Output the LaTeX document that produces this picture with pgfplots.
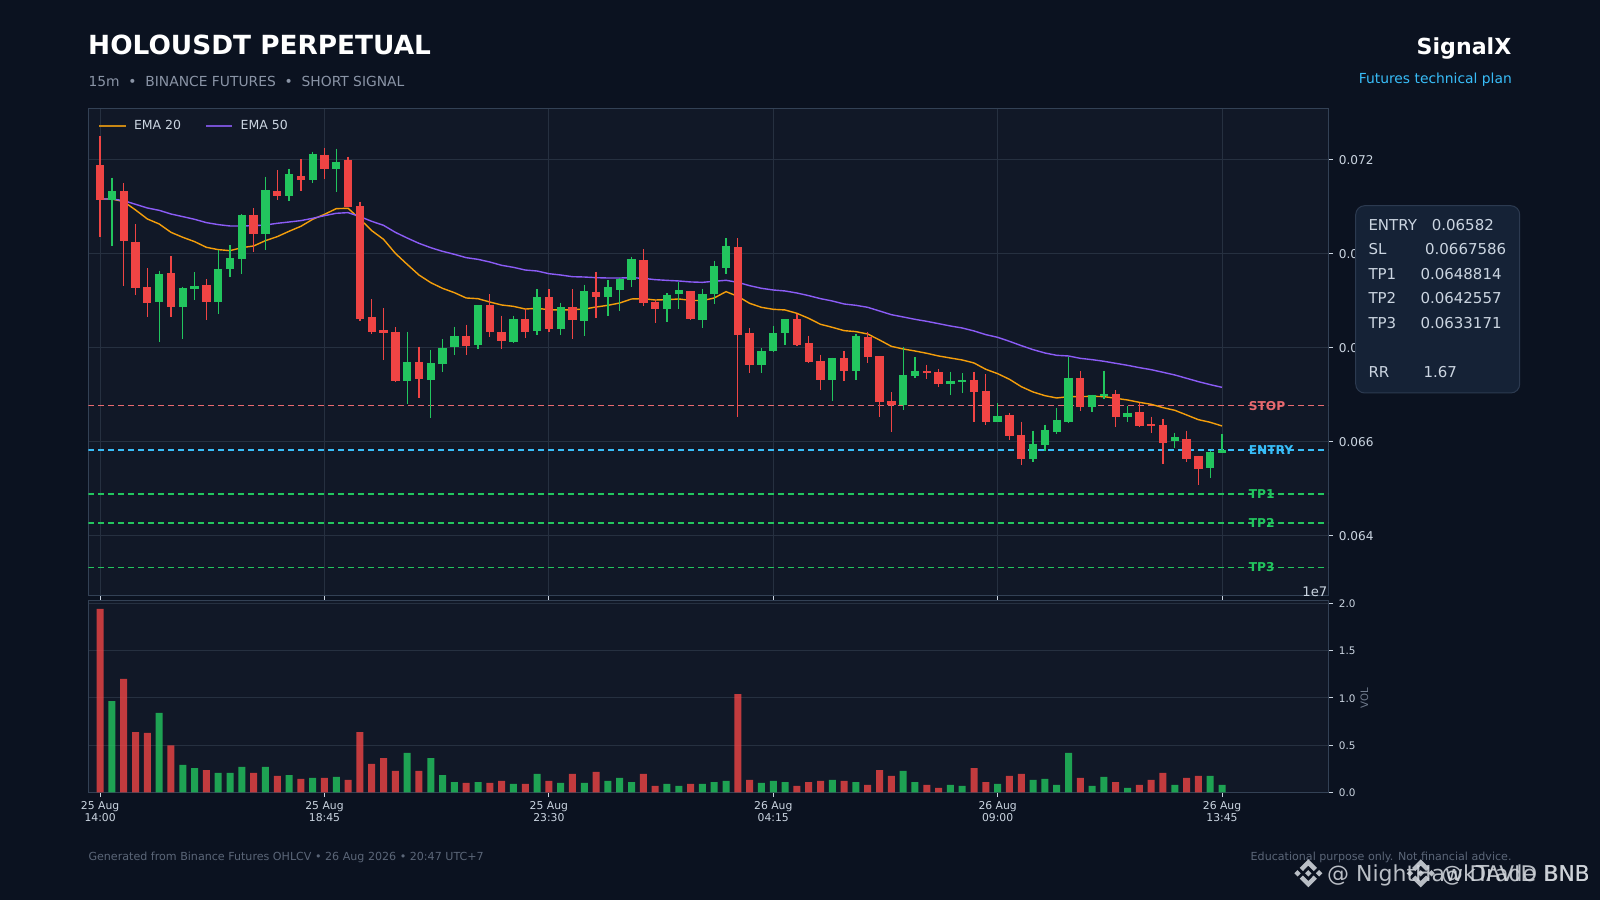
\documentclass[border=0pt]{standalone}
\usepackage{fontspec}
\setmainfont{DejaVu Sans}
\usepackage{pgfplots}
\usepackage{pgfplotstable}
\pgfplotsset{compat=1.18}
\definecolor{bgc}{HTML}{0B1220}
\definecolor{panel}{HTML}{111827}
\definecolor{gridc}{HTML}{263040}
\definecolor{spine}{HTML}{334155}
\definecolor{tickc}{HTML}{CBD5E1}
\definecolor{upc}{HTML}{22C55E}
\definecolor{dnc}{HTML}{EF4444}
\definecolor{ema1}{HTML}{F59E0B}
\definecolor{ema2}{HTML}{8B5CF6}
\definecolor{leg1}{HTML}{C98714}
\definecolor{leg2}{HTML}{7550D0}
\definecolor{stopc}{HTML}{E8696F}
\definecolor{entryc}{HTML}{38BDF8}
\definecolor{subc}{HTML}{8A94A6}
\definecolor{footc}{HTML}{5B6678}
\definecolor{volc}{HTML}{6F7A8C}
\definecolor{boxf}{HTML}{152236}
\definecolor{boxe}{HTML}{2C3A50}
\definecolor{wmc}{HTML}{D2D6DC}

\pgfplotstableread{
x open high low close
1 0.071134 0.071610 0.070155 0.071326
5 0.068964 0.069631 0.068106 0.069560
7 0.068858 0.069290 0.068184 0.069262
8 0.069241 0.069595 0.069000 0.069304
10 0.068964 0.070070 0.068702 0.069666
11 0.069666 0.070170 0.069489 0.069900
12 0.069879 0.070829 0.069553 0.070815
14 0.070411 0.071631 0.070063 0.071347
16 0.071219 0.071801 0.071120 0.071687
18 0.071560 0.072163 0.071503 0.072113
20 0.071794 0.072227 0.071312 0.071943
26 0.067283 0.068332 0.066793 0.067687
28 0.067304 0.067950 0.066489 0.067666
29 0.067644 0.068170 0.067467 0.067985
30 0.068006 0.068439 0.067829 0.068240
32 0.068049 0.068900 0.067971 0.068900
35 0.068113 0.068673 0.068098 0.068602
37 0.068347 0.069233 0.068255 0.069070
39 0.068389 0.068949 0.068255 0.068857
41 0.068560 0.069333 0.068234 0.069198
43 0.069070 0.069432 0.068659 0.069283
44 0.069219 0.069470 0.068779 0.069450
45 0.069432 0.069928 0.069290 0.069879
48 0.068815 0.069148 0.068545 0.069113
49 0.069134 0.069396 0.068808 0.069219
51 0.068581 0.069248 0.068404 0.069134
52 0.069134 0.069843 0.068914 0.069730
53 0.069687 0.070318 0.069552 0.070155
56 0.067623 0.067978 0.067460 0.067921
57 0.067921 0.068460 0.067893 0.068304
58 0.068304 0.068602 0.068056 0.068602
62 0.067304 0.067780 0.066864 0.067772
64 0.067496 0.068283 0.067311 0.068240
68 0.066772 0.068013 0.066673 0.067411
69 0.067389 0.067786 0.067354 0.067496
72 0.067219 0.067482 0.066992 0.067283
73 0.067262 0.067446 0.067035 0.067304
76 0.066411 0.066815 0.066411 0.066538
79 0.065624 0.066226 0.065567 0.065943
80 0.065921 0.066354 0.065787 0.066241
81 0.066198 0.066716 0.066163 0.066453
82 0.066411 0.067801 0.066397 0.067347
84 0.066730 0.066992 0.066631 0.066985
85 0.066964 0.067503 0.066893 0.067007
87 0.066517 0.066751 0.066404 0.066602
91 0.066007 0.066184 0.065865 0.066092
94 0.065432 0.065794 0.065226 0.065772
95 0.065751 0.066163 0.065751 0.065815
}\upT

\pgfplotstableread{
x open high low close
0 0.071879 0.072496 0.070354 0.071134
2 0.071326 0.071489 0.069304 0.070262
3 0.070241 0.070616 0.069120 0.069262
4 0.069283 0.069680 0.068652 0.068943
6 0.069581 0.069936 0.068652 0.068858
9 0.069326 0.069446 0.068588 0.068964
13 0.070815 0.070957 0.070035 0.070411
15 0.071326 0.071765 0.071141 0.071219
17 0.071645 0.071999 0.071333 0.071560
19 0.072092 0.072241 0.071581 0.071794
21 0.071985 0.072056 0.070985 0.070985
22 0.071007 0.071099 0.068553 0.068602
23 0.068645 0.069021 0.068283 0.068326
24 0.068368 0.068829 0.067737 0.068304
25 0.068325 0.068425 0.067254 0.067283
27 0.067687 0.068013 0.066914 0.067325
31 0.068240 0.068481 0.067829 0.068028
33 0.068900 0.069127 0.068226 0.068325
34 0.068325 0.068673 0.067971 0.068134
36 0.068602 0.068808 0.068205 0.068325
38 0.069070 0.069233 0.068332 0.068389
40 0.068857 0.069233 0.068184 0.068581
42 0.069177 0.069609 0.068630 0.069070
46 0.069857 0.070084 0.068886 0.068942
47 0.068964 0.069006 0.068524 0.068815
50 0.069198 0.069198 0.068581 0.068602
54 0.070134 0.070318 0.066524 0.068262
55 0.068304 0.068404 0.067460 0.067623
59 0.068602 0.068709 0.068028 0.068049
60 0.068092 0.068248 0.067666 0.067687
61 0.067709 0.067843 0.067099 0.067304
63 0.067772 0.067921 0.067290 0.067496
65 0.068219 0.068333 0.067673 0.067794
66 0.067815 0.067815 0.066510 0.066836
67 0.066857 0.067042 0.066205 0.066772
70 0.067496 0.067630 0.067333 0.067453
71 0.067474 0.067538 0.067155 0.067219
74 0.067304 0.067482 0.066418 0.067049
75 0.067070 0.067425 0.066354 0.066411
77 0.066560 0.066609 0.066021 0.066113
78 0.066134 0.066418 0.065503 0.065624
83 0.067347 0.067489 0.066652 0.066730
86 0.067007 0.067085 0.066311 0.066517
88 0.066624 0.066808 0.066311 0.066326
89 0.066368 0.066524 0.066184 0.066326
90 0.066347 0.066482 0.065524 0.065964
92 0.066049 0.066226 0.065567 0.065624
93 0.065687 0.065694 0.065063 0.065411
}\dnT

\pgfplotstableread{
x ema20 ema50
0 0.071155 0.071155
1 0.071155 0.071155
2 0.071099 0.071120
3 0.070922 0.071042
4 0.070730 0.070964
5 0.070624 0.070914
6 0.070446 0.070836
7 0.070340 0.070780
8 0.070248 0.070723
9 0.070127 0.070652
10 0.070078 0.070610
11 0.070056 0.070581
12 0.070120 0.070581
13 0.070156 0.070588
14 0.070269 0.070602
15 0.070354 0.070638
16 0.070468 0.070666
17 0.070574 0.070695
18 0.070723 0.070744
19 0.070829 0.070801
20 0.070950 0.070851
21 0.070957 0.070865
22 0.070730 0.070780
23 0.070482 0.070680
24 0.070297 0.070595
25 0.069999 0.070446
26 0.069765 0.070325
27 0.069538 0.070212
28 0.069375 0.070119
29 0.069254 0.070041
30 0.069162 0.069978
31 0.069049 0.069907
32 0.069034 0.069871
33 0.068963 0.069814
34 0.068900 0.069744
35 0.068871 0.069701
36 0.068814 0.069644
37 0.068829 0.069623
38 0.068800 0.069566
39 0.068793 0.069538
40 0.068800 0.069502
41 0.068814 0.069495
42 0.068857 0.069481
43 0.068893 0.069474
44 0.068942 0.069474
45 0.069028 0.069481
46 0.069034 0.069467
47 0.069006 0.069439
48 0.069013 0.069424
49 0.069028 0.069411
50 0.068999 0.069390
51 0.068992 0.069382
52 0.069049 0.069404
53 0.069184 0.069425
54 0.069084 0.069382
55 0.068935 0.069311
56 0.068850 0.069255
57 0.068808 0.069219
58 0.068794 0.069198
59 0.068723 0.069155
60 0.068616 0.069099
61 0.068489 0.069035
62 0.068425 0.068985
63 0.068354 0.068921
64 0.068333 0.068893
65 0.068283 0.068850
66 0.068155 0.068772
67 0.068020 0.068694
68 0.067964 0.068645
69 0.067921 0.068595
70 0.067872 0.068552
71 0.067815 0.068503
72 0.067772 0.068453
73 0.067730 0.068411
74 0.067666 0.068347
75 0.067531 0.068269
76 0.067439 0.068212
77 0.067319 0.068127
78 0.067162 0.068035
79 0.067049 0.067950
80 0.066971 0.067879
81 0.066921 0.067829
82 0.066950 0.067815
83 0.066950 0.067765
84 0.066957 0.067737
85 0.066950 0.067702
86 0.066914 0.067659
87 0.066879 0.067616
88 0.066829 0.067567
89 0.066787 0.067524
90 0.066716 0.067468
91 0.066659 0.067411
92 0.066560 0.067340
93 0.066460 0.067269
94 0.066404 0.067205
95 0.066326 0.067148
}\emaT

\pgfplotstableread{
x vol
1 0.966
5 0.84
7 0.289
8 0.257
10 0.205
11 0.205
12 0.268
14 0.268
16 0.183
18 0.152
20 0.162
26 0.416
28 0.363
29 0.183
30 0.109
32 0.109
35 0.088
37 0.194
39 0.099
41 0.099
43 0.12
44 0.152
45 0.109
48 0.088
49 0.067
51 0.088
52 0.109
53 0.12
56 0.099
57 0.12
58 0.109
62 0.131
64 0.109
68 0.226
69 0.109
72 0.078
73 0.067
76 0.088
79 0.131
80 0.141
81 0.078
82 0.416
84 0.067
85 0.162
87 0.046
91 0.078
94 0.173
95 0.078
}\volUp

\pgfplotstableread{
x vol
0 1.94
2 1.20
3 0.638
4 0.628
6 0.497
9 0.236
13 0.205
15 0.173
17 0.141
19 0.152
21 0.131
22 0.638
23 0.30
24 0.363
25 0.226
27 0.226
31 0.099
33 0.099
34 0.12
36 0.088
38 0.12
40 0.194
42 0.215
46 0.194
47 0.067
50 0.088
54 1.04
55 0.131
59 0.067
60 0.109
61 0.12
63 0.12
65 0.078
66 0.236
67 0.173
70 0.078
71 0.046
74 0.257
75 0.109
77 0.173
78 0.194
83 0.152
86 0.109
88 0.078
89 0.131
90 0.205
92 0.152
93 0.173
}\volDn

\pgfplotsset{level/.style={forget plot,line width=1.7pt,dash pattern=on 6pt off 4pt}}

\begin{document}
\begin{tikzpicture}[x=1pt,y=1pt]
\path[use as bounding box] (0,0) rectangle (1600,900);
\fill[bgc] (0,0) rectangle (1600,900);

% title block
\node[anchor=base west,inner sep=0pt,text=white] at (88,845.7) {\fontsize{26.35}{30}\selectfont\bfseries HOLOUSDT PERPETUAL};
\node[anchor=base west,inner sep=0pt,text=subc] at (88.3,813) {\fontsize{13.85}{16}\selectfont 15m\ \ •\ \ BINANCE FUTURES\ \ •\ \ SHORT SIGNAL};
\node[anchor=base east,inner sep=0pt,text=white] at (1511.5,845.7) {\fontsize{22.1}{26}\selectfont\bfseries SignalX};
\node[anchor=base east,inner sep=0pt,text=entryc] at (1512,816.7) {\fontsize{13.85}{16}\selectfont Futures technical plan};

% price panel
\begin{axis}[
  at={(88.3pt,304.7pt)},anchor=south west,
  scale only axis,width=1240pt,height=487pt,
  xmin=-1,xmax=104,ymin=0.062723,ymax=0.073085,
  axis background/.style={fill=panel},
  axis line style={draw=spine,line width=1pt},
  grid=major,grid style={draw=gridc,line width=1pt},
  xtick={0,19,38,57,76,95},xticklabels={},
  ytick={0.064,0.066,0.068,0.070,0.072},
  scaled y ticks=false,
  yticklabel pos=right,ytick pos=right,xtick pos=bottom,
  tick align=outside,major tick length=4.8pt,
  tick style={draw=tickc,line width=1pt},
  yticklabel style={font=\fontsize{12.1}{14}\selectfont,text=tickc,
    /pgf/number format/assume math mode=true,/pgf/number format/fixed,
    /pgf/number format/fixed zerofill,/pgf/number format/precision=3,
    inner sep=0pt,xshift=5.6pt,yshift=-0.8pt},
  legend columns=2,
  legend style={at={(0pt,487pt)},anchor=north west,draw=none,fill=none,
    text=tickc,font=\fontsize{12.5}{14}\selectfont,
    inner xsep=10pt,inner ysep=10pt,
    /tikz/every odd column/.append style={column sep=5.5pt},
    /tikz/every even column/.append style={column sep=22pt}},
  legend cell align=left,
  legend image code/.code={\draw[#1] (0pt,0pt) -- (26.4pt,0pt);},
]
\addlegendimage{draw=leg1,line width=1.6pt}\addlegendentry{EMA 20}
\addlegendimage{draw=leg2,line width=1.6pt}\addlegendentry{EMA 50}

% labels under the dashed levels
\addplot[draw=none,forget plot] coordinates {(97.25,0.0667586)} node[anchor=west,inner sep=0pt,text=stopc,font=\fontsize{12.2}{14}\selectfont\bfseries]{STOP};
\addplot[draw=none,forget plot] coordinates {(97.25,0.06582)} node[anchor=west,inner sep=0pt,text=entryc,font=\fontsize{12.2}{14}\selectfont\bfseries]{ENTRY};
\addplot[draw=none,forget plot] coordinates {(97.25,0.0648814)} node[anchor=west,inner sep=0pt,text=upc,font=\fontsize{12.2}{14}\selectfont\bfseries]{TP1};
\addplot[draw=none,forget plot] coordinates {(97.25,0.0642557)} node[anchor=west,inner sep=0pt,text=upc,font=\fontsize{12.2}{14}\selectfont\bfseries]{TP2};
\addplot[draw=none,forget plot] coordinates {(97.25,0.0633171)} node[anchor=west,inner sep=0pt,text=upc,font=\fontsize{12.2}{14}\selectfont\bfseries]{TP3};

% levels
\addplot[level,draw=stopc] coordinates {(-1,0.0667586) (104,0.0667586)};
\addplot[level,draw=entryc] coordinates {(-1,0.06582) (104,0.06582)};
\addplot[level,draw=upc] coordinates {(-1,0.0648814) (104,0.0648814)};
\addplot[level,draw=upc] coordinates {(-1,0.0642557) (104,0.0642557)};
\addplot[level,draw=upc] coordinates {(-1,0.0633171) (104,0.0633171)};

% EMAs
\addplot[forget plot,draw=ema1,line width=1.4pt,no marks] table[x=x,y=ema20] {\emaT};
\addplot[forget plot,draw=ema2,line width=1.4pt,no marks] table[x=x,y=ema50] {\emaT};

% wicks
\addplot[forget plot,draw=none,no marks,error bars/.cd,y dir=minus,y explicit,error mark=none,error bar style={draw=upc,line width=1.3pt}]
  table[x=x,y=high,y error minus expr=\thisrow{high}-\thisrow{low}] {\upT};
\addplot[forget plot,draw=none,no marks,error bars/.cd,y dir=minus,y explicit,error mark=none,error bar style={draw=dnc,line width=1.3pt}]
  table[x=x,y=high,y error minus expr=\thisrow{high}-\thisrow{low}] {\dnT};
% bodies
\addplot[forget plot,draw=none,no marks,error bars/.cd,y dir=minus,y explicit,error mark=none,error bar style={draw=upc,line width=8.3pt}]
  table[x=x,y=close,y error minus expr=\thisrow{close}-\thisrow{open}] {\upT};
\addplot[forget plot,draw=none,no marks,error bars/.cd,y dir=minus,y explicit,error mark=none,error bar style={draw=dnc,line width=8.3pt}]
  table[x=x,y=open,y error minus expr=\thisrow{open}-\thisrow{close}] {\dnT};
\end{axis}

% volume panel
\begin{axis}[
  at={(88.3pt,107.7pt)},anchor=south west,
  scale only axis,width=1240pt,height=192pt,
  xmin=-1,xmax=104,ymin=0,ymax=2.032,
  axis background/.style={fill=panel},
  axis line style={draw=spine,line width=1pt},
  ymajorgrids,grid style={draw=gridc,line width=1pt},
  xtick={0,19,38,57,76,95},
  xticklabels={{25 Aug\\14:00},{25 Aug\\18:45},{25 Aug\\23:30},{26 Aug\\04:15},{26 Aug\\09:00},{26 Aug\\13:45}},
  ytick={0,0.5,1,1.5,2},
  yticklabel pos=right,ytick pos=right,xtick pos=bottom,
  tick align=outside,major tick length=4.8pt,
  tick style={draw=tickc,line width=1pt},
  yticklabel style={font=\fontsize{10.4}{12}\selectfont,text=tickc,
    /pgf/number format/assume math mode=true,/pgf/number format/fixed,
    /pgf/number format/fixed zerofill,/pgf/number format/precision=1,
    inner sep=0pt,xshift=5.6pt,yshift=-0.5pt},
  xticklabel style={font=\fontsize{10.8}{11.2}\selectfont,text=tickc,align=center,inner sep=0pt,yshift=-4.5pt},
  ybar,bar width=7pt,
]
\addplot[fill=upc,fill opacity=0.8,draw=none,bar shift=0pt] table[x=x,y=vol] {\volUp};
\addplot[fill=dnc,fill opacity=0.8,draw=none,bar shift=0pt] table[x=x,y=vol] {\volDn};
\end{axis}

% exponent and VOL label
\node[anchor=base east,inner sep=0pt,text=tickc] at (1327.5,303) {\fontsize{13.2}{15}\selectfont 1e7};
\node[rotate=90,inner sep=0pt,text=volc,anchor=center] at (1364.5,202) {\fontsize{10.2}{12}\selectfont VOL};

% info box
\fill[boxf,draw=boxe,line width=1pt,rounded corners=9pt] (1355.7,507) rectangle (1519.7,694.3);
\begin{scope}[every node/.style={anchor=base west,inner sep=0pt,text=tickc}]
\node at (1368.3,669) {\fontsize{15}{17}\selectfont\makebox[63.3pt][l]{ENTRY}0.06582};
\node at (1368.3,645) {\fontsize{15}{17}\selectfont\makebox[56.6pt][l]{SL}0.0667586};
\node at (1368.3,620) {\fontsize{15}{17}\selectfont\makebox[52pt][l]{TP1}0.0648814};
\node at (1368.3,596) {\fontsize{15}{17}\selectfont\makebox[52pt][l]{TP2}0.0642557};
\node at (1368.3,571.3) {\fontsize{15}{17}\selectfont\makebox[52pt][l]{TP3}0.0633171};
\node at (1368.3,522) {\fontsize{15}{17}\selectfont\makebox[55pt][l]{RR}1.67};
\end{scope}

% footer
\node[anchor=base west,inner sep=0pt,text=footc] at (88.3,40) {\fontsize{11.1}{13}\selectfont Generated from Binance Futures OHLCV • 26 Aug 2026 • 20:47 UTC+7};
\node[anchor=base east,inner sep=0pt,text=footc] at (1511.7,40) {\fontsize{11.1}{13}\selectfont Educational purpose only. Not financial advice.};

% watermarks
\begin{scope}[opacity=0.88]
\foreach \cx in {1308.3,1420.7} {
  \begin{scope}[shift={(\cx,26.7)}]
    \fill[wmc] (-5.4,2.2) -- (0,7.7) -- (5.4,2.2) -- (8.6,5.4) -- (0,14) -- (-8.6,5.4) -- cycle;
    \fill[wmc] (-5.4,-2.2) -- (0,-7.7) -- (5.4,-2.2) -- (8.6,-5.4) -- (0,-14) -- (-8.6,-5.4) -- cycle;
    \fill[wmc] (-3.2,0) -- (0,3.2) -- (3.2,0) -- (0,-3.2) -- cycle;
    \fill[wmc] (-14,0) -- (-10.8,3.2) -- (-7.6,0) -- (-10.8,-3.2) -- cycle;
    \fill[wmc] (14,0) -- (10.8,3.2) -- (7.6,0) -- (10.8,-3.2) -- cycle;
  \end{scope}
}
\node[anchor=base east,inner sep=0pt,text=wmc] at (1590,18.3) {\fontsize{22}{26}\selectfont @ NightHawkTrade BNB};
\node[anchor=base east,inner sep=0pt,text=wmc] at (1590,18.3) {\fontsize{21.6}{26}\selectfont @ DAVID BNB};
\end{scope}
\end{tikzpicture}
\end{document}
